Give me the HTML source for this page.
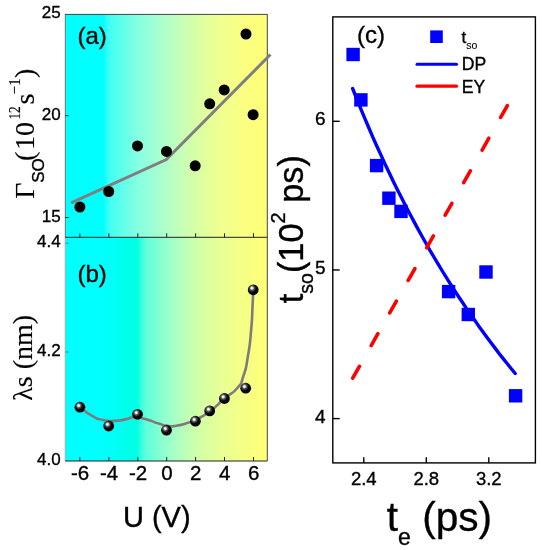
<!DOCTYPE html>
<html><head><meta charset="utf-8"><title>figure</title>
<style>
html,body{margin:0;padding:0;background:#fff;}
svg{display:block;}
text{font-family:"Liberation Sans",sans-serif;fill:#000;stroke:#000;stroke-width:0.35px;}
.se{font-family:"Liberation Serif",serif;stroke-width:0.15px;}
</style></head><body>
<svg width="542" height="550" viewBox="0 0 542 550">
<defs>
<linearGradient id="ga" gradientUnits="userSpaceOnUse" x1="65" y1="0" x2="267" y2="0">
<stop offset="0" stop-color="#00ffff"/>
<stop offset="0.19" stop-color="#00ffff"/>
<stop offset="0.217" stop-color="#40fff2"/>
<stop offset="0.37" stop-color="#88ffe0"/>
<stop offset="0.47" stop-color="#a8ffd0"/>
<stop offset="0.57" stop-color="#c4ffb8"/>
<stop offset="0.67" stop-color="#dcffa0"/>
<stop offset="0.77" stop-color="#f0ff90"/>
<stop offset="0.9" stop-color="#fbff80"/>
<stop offset="1" stop-color="#ffff76"/>
</linearGradient>
<linearGradient id="gb" gradientUnits="userSpaceOnUse" x1="65" y1="0" x2="267" y2="0">
<stop offset="0" stop-color="#00ffff"/>
<stop offset="0.17" stop-color="#00ffff"/>
<stop offset="0.355" stop-color="#00ffe4"/>
<stop offset="0.395" stop-color="#5cffdc"/>
<stop offset="0.49" stop-color="#90ffd0"/>
<stop offset="0.565" stop-color="#b0ffc0"/>
<stop offset="0.655" stop-color="#d0ffa8"/>
<stop offset="0.80" stop-color="#ecff90"/>
<stop offset="0.92" stop-color="#f8ff80"/>
<stop offset="1" stop-color="#ffff76"/>
</linearGradient>
<radialGradient id="ball" cx="0.40" cy="0.36" r="0.62" fx="0.38" fy="0.34">
<stop offset="0" stop-color="#ffffff"/>
<stop offset="0.14" stop-color="#e8e8e8"/>
<stop offset="0.34" stop-color="#555555"/>
<stop offset="0.6" stop-color="#0a0a0a"/>
<stop offset="1" stop-color="#000000"/>
</radialGradient>
</defs>
<rect x="0" y="0" width="542" height="550" fill="#ffffff"/>

<rect x="65" y="14.2" width="202.3" height="223.10000000000002" fill="url(#ga)"/>
<rect x="65" y="237.3" width="202.3" height="223.7" fill="url(#gb)"/>
<g fill="none" stroke="#222" stroke-width="1">
<path d="M65.3 14.2 V237.3" stroke="#777" />
<path d="M65.2 237.3 V461" stroke="#b8b0b0" />
<path d="M267.3 14.2 V461" stroke="#444"/>
<path d="M65 14.399999999999999 H267.3" stroke="#444"/>
<path d="M65 237.3 H267.3" stroke="#222"/>
<path d="M65 461 H267.3" stroke="#222"/>
<path d="M79.9 237.3 v-4 M79.9 461 v-4" stroke="#222"/>
<path d="M108.9 237.3 v-4 M108.9 461 v-4" stroke="#222"/>
<path d="M137.8 237.3 v-4 M137.8 461 v-4" stroke="#222"/>
<path d="M166.7 237.3 v-4 M166.7 461 v-4" stroke="#222"/>
<path d="M195.6 237.3 v-4 M195.6 461 v-4" stroke="#222"/>
<path d="M224.5 237.3 v-4 M224.5 461 v-4" stroke="#222"/>
<path d="M253.5 237.3 v-4 M253.5 461 v-4" stroke="#222"/>
<path d="M65 115.7 h4" stroke="#333"/>
<path d="M65 217.5 h4" stroke="#333"/>
<path d="M65 243.2 h4" stroke="#667" stroke-opacity="0.7"/>
<path d="M65 352 h4" stroke="#667" stroke-opacity="0.7"/>
</g>
<path d="M71.2 202.8 L166.3 159.6 L270.5 54.5" fill="none" stroke="#7f7f7f" stroke-width="3" stroke-linejoin="miter"/>
<circle cx="79.9" cy="207" r="5.5" fill="#000"/>
<circle cx="108.7" cy="191.5" r="5.5" fill="#000"/>
<circle cx="137.5" cy="145.9" r="5.5" fill="#000"/>
<circle cx="166.5" cy="151.4" r="5.5" fill="#000"/>
<circle cx="195.2" cy="165.8" r="5.5" fill="#000"/>
<circle cx="209.7" cy="103.8" r="5.5" fill="#000"/>
<circle cx="224.2" cy="89.9" r="5.5" fill="#000"/>
<circle cx="246.0" cy="34.0" r="5.5" fill="#000"/>
<circle cx="253.1" cy="114.7" r="5.5" fill="#000"/>
<path d="M79.9 407.2 C84.0 410.1,84.3 411.5,92.1 415.8 C99.9 420.1,95.8 418.3,103.2 420.0 C110.6 421.7,106.9 421.1,114.3 420.9 C121.7 420.7,118.7 420.6,125.3 419.4 C131.9 418.2,127.5 417.5,134.2 417.3 C140.9 417.1,137.2 416.8,145.3 418.9 C153.4 421.0,151.2 421.3,158.6 423.6 C166.0 425.9,161.5 425.1,167.4 425.8 C173.3 426.5,169.9 426.7,176.3 425.8 C182.7 424.9,180.0 425.2,186.5 423.2 C193.0 421.2,187.9 423.7,195.7 419.7 C203.5 415.7,200.3 418.2,209.9 411.2 C219.5 404.2,215.4 406.3,224.5 398.6 C233.6 390.9,231.0 395.5,237.3 388.0 C243.6 380.5,239.9 386.5,243.4 376.0 C246.9 365.5,245.4 371.2,247.9 356.4 C250.4 341.6,249.5 348.2,251.0 331.7 C252.5 315.2,251.8 321.0,252.5 307.0 C253.2 293.0,253.0 295.5,253.2 289.8" fill="none" stroke="#807a7a" stroke-width="2.6" stroke-linejoin="round"/>
<circle cx="79.9" cy="407.2" r="5.4" fill="url(#ball)"/>
<circle cx="108.7" cy="426" r="5.4" fill="url(#ball)"/>
<circle cx="137.5" cy="414.3" r="5.4" fill="url(#ball)"/>
<circle cx="166.5" cy="430.2" r="5.4" fill="url(#ball)"/>
<circle cx="195.4" cy="421.2" r="5.4" fill="url(#ball)"/>
<circle cx="209.7" cy="410.9" r="5.4" fill="url(#ball)"/>
<circle cx="224.4" cy="398.5" r="5.4" fill="url(#ball)"/>
<circle cx="245.7" cy="388.2" r="5.4" fill="url(#ball)"/>
<circle cx="253.2" cy="289.8" r="5.4" fill="url(#ball)"/>
<text x="77.5" y="44" font-size="24">(a)</text>
<text x="77.5" y="281.5" font-size="24">(b)</text>
<text x="60.6" y="18.3" font-size="17" text-anchor="end">25</text>
<text x="60.6" y="119.9" font-size="17" text-anchor="end">20</text>
<text x="60.6" y="221.7" font-size="17" text-anchor="end">15</text>
<text x="60.6" y="247.2" font-size="17" text-anchor="end">4.4</text>
<text x="60.6" y="356.2" font-size="17" text-anchor="end">4.2</text>
<text x="60.6" y="465.2" font-size="17" text-anchor="end">4.0</text>
<text x="80.1" y="480.2" font-size="20.5" text-anchor="middle">-6</text>
<text x="109.1" y="480.2" font-size="20.5" text-anchor="middle">-4</text>
<text x="138.0" y="480.2" font-size="20.5" text-anchor="middle">-2</text>
<text x="166.9" y="480.2" font-size="20.5" text-anchor="middle">0</text>
<text x="195.8" y="480.2" font-size="20.5" text-anchor="middle">2</text>
<text x="224.7" y="480.2" font-size="20.5" text-anchor="middle">4</text>
<text x="253.7" y="480.2" font-size="20.5" text-anchor="middle">6</text>
<text x="156.8" y="526.8" font-size="29" text-anchor="middle">U (V)</text>
<g transform="translate(33.6 199) rotate(-90)">
<text class="se" x="0.3" y="0" font-size="28">Γ</text>
<text x="16.2" y="9.9" font-size="17">SO</text>
<text class="se" x="37.9" y="0" font-size="28">(</text>
<text class="se" x="49.1" y="0" font-size="28">10</text>
<text class="se" transform="translate(79.4 -13.9) scale(0.78 1)" font-size="17">12</text>
<text class="se" x="94.6" y="0" font-size="28">s</text>
<text class="se" transform="translate(104.7 -13.9) scale(0.88 1)" font-size="17">−1</text>
<text class="se" x="121" y="0" font-size="28">)</text>
</g>
<text class="se" transform="translate(31.7 400.8) rotate(-90)" font-size="28">λs (nm)</text>
<rect x="332.8" y="16.9" width="202.6" height="446" fill="#fff" stroke="#000" stroke-width="1.4"/>
<g stroke="#000" stroke-width="1.4" fill="none">
<path d="M332.5 121.3 h7.2"/>
<path d="M332.5 269.95 h7.2"/>
<path d="M332.5 418.6 h7.2"/>
<path d="M363.8 462.9 v-5.7"/>
<path d="M426.3 462.9 v-5.7"/>
<path d="M488.8 462.9 v-5.7"/>
</g>
<path d="M352.6 88.5 L356.7 98.7 L360.7 108.7 L364.8 118.4 L368.9 128.0 L372.9 137.3 L377.0 146.5 L381.1 155.4 L385.1 164.2 L389.2 172.8 L393.2 181.2 L397.3 189.5 L401.4 197.6 L405.4 205.5 L409.5 213.3 L413.6 220.9 L417.6 228.4 L421.7 235.8 L425.8 243.0 L429.8 250.1 L433.9 257.0 L438.0 263.8 L442.0 270.5 L446.1 277.1 L450.2 283.6 L454.2 289.9 L458.3 296.2 L462.4 302.3 L466.4 308.4 L470.5 314.3 L474.6 320.1 L478.6 325.9 L482.7 331.5 L486.7 337.0 L490.8 342.5 L494.9 347.9 L498.9 353.2 L503.0 358.4 L507.1 363.5 L511.1 368.5 L515.2 373.5" fill="none" stroke="#0000ff" stroke-width="3.4" stroke-linecap="round" stroke-linejoin="round"/>
<path d="M352.7 378.1 L507.5 105.4" fill="none" stroke="#ff0000" stroke-width="3.6" stroke-linecap="round" stroke-dasharray="13.6 23.86"/>
<rect x="346.4" y="47.8" width="13.4" height="13.4" fill="#0000ff"/>
<rect x="354.2" y="93.2" width="13.4" height="13.4" fill="#0000ff"/>
<rect x="369.9" y="158.9" width="13.4" height="13.4" fill="#0000ff"/>
<rect x="382.2" y="191.5" width="13.4" height="13.4" fill="#0000ff"/>
<rect x="394.3" y="204.7" width="13.4" height="13.4" fill="#0000ff"/>
<rect x="441.9" y="284.9" width="13.4" height="13.4" fill="#0000ff"/>
<rect x="461.6" y="307.8" width="13.4" height="13.4" fill="#0000ff"/>
<rect x="479.3" y="265.3" width="13.4" height="13.4" fill="#0000ff"/>
<rect x="508.9" y="389.1" width="13.4" height="13.4" fill="#0000ff"/>
<rect x="430.2" y="30.4" width="12.6" height="12.6" fill="#0000ff"/>
<path d="M417 64.2 H456.5" stroke="#0000ff" stroke-width="3" stroke-linecap="round"/>
<path d="M417 86.2 H456.5" stroke="#ff0000" stroke-width="3.2" stroke-linecap="round"/>
<text x="461.4" y="43" font-size="17">t<tspan font-size="10.5" dy="5.5" stroke-width="0.1">so</tspan></text>
<text x="461.8" y="70.3" font-size="17.6">DP</text>
<text x="461.8" y="92.7" font-size="17.6">EY</text>
<text x="357" y="43.3" font-size="24">(c)</text>
<text x="325.6" y="125.4" font-size="19" text-anchor="end">6</text>
<text x="325.6" y="274.1" font-size="19" text-anchor="end">5</text>
<text x="325.6" y="422.8" font-size="19" text-anchor="end">4</text>
<text x="363.8" y="485.2" font-size="18.5" text-anchor="middle">2.4</text>
<text x="426.3" y="485.2" font-size="18.5" text-anchor="middle">2.8</text>
<text x="488.8" y="485.2" font-size="18.5" text-anchor="middle">3.2</text>
<text x="386.8" y="530.6" font-size="40.6">t<tspan font-size="23" dy="14.4">e</tspan><tspan dy="-14.4"> (ps)</tspan></text>
<text transform="translate(302.6 303.2) rotate(-90)" font-size="34.3">t<tspan font-size="19.5" dy="10.4">so</tspan><tspan dy="-10.4">(10</tspan><tspan font-size="20" dy="-17.3">2</tspan><tspan dy="17.3"> ps)</tspan></text>
</svg></body></html>
